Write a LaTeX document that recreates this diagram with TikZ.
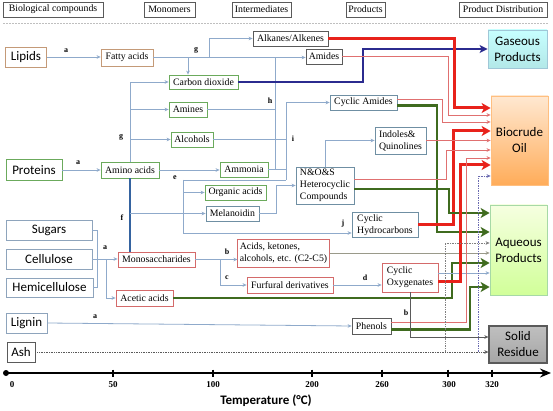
\documentclass[tikz,border=0pt]{standalone}
\usepackage{fontspec}
\setmainfont{Liberation Serif}
\newfontfamily\sansf{Carlito}
\usetikzlibrary{arrows.meta,calc}
\definecolor{lb}{HTML}{8FAACB}
\definecolor{tanb}{HTML}{C49A78}
\definecolor{grnb}{HTML}{6BAA5C}
\definecolor{bgb}{HTML}{6F8FA3}
\definecolor{bgl}{HTML}{8EA4BC}
\definecolor{redb}{HTML}{D46A6A}
\definecolor{dgb}{HTML}{5A5A5A}
\definecolor{tred}{HTML}{E8221B}
\definecolor{thinred}{HTML}{E07070}
\definecolor{dgreen}{HTML}{3F6B1F}
\definecolor{navyc}{HTML}{2B2B8F}
\definecolor{fblue}{HTML}{3563A0}
\definecolor{greyl}{HTML}{9A9A8A}
\tikzset{
  sz/.style 2 args={minimum width=#1pt,minimum height=#2pt},
  bx/.style={draw=#1, fill=white, line width=0.8pt, inner sep=2pt, font=\fontsize{9.8}{11.8}\selectfont},
  bxl/.style={bx=#1, align=left},
  bigbx/.style={draw=#1, fill=white, line width=0.8pt, inner sep=2pt, font=\sansf\fontsize{13}{15}\selectfont},
  outbx/.style={line width=0.8pt, inner sep=2pt, align=center, font=\sansf\fontsize{13}{16}\selectfont},
  lbl/.style={font=\bfseries\fontsize{8}{9}\selectfont, inner sep=0pt},
  tick/.style={font=\bfseries\fontsize{9}{10}\selectfont, inner sep=0pt},
  lbline/.style={draw=lb, line width=0.8pt},
  lbarrow/.style={lbline, -{Stealth[length=4pt,width=3.6pt]}},
  thinr/.style={draw=thinred, line width=0.8pt, -{Stealth[length=4pt,width=3.6pt]}},
  thickr/.style={draw=tred, line width=3pt, -{Stealth[length=9pt,width=10pt,inset=2.5pt]}},
  thickg/.style={draw=dgreen, line width=2.8pt, -{Stealth[length=9pt,width=10pt,inset=2.5pt]}},
  navyarrow/.style={draw=navyc, line width=2.4pt, -{Stealth[length=8pt,width=8pt,inset=2pt]}},
  greyarrow/.style={draw=greyl, line width=0.8pt, -{Stealth[length=4pt,width=3.6pt]}},
  darkarrow/.style={draw=dgb, line width=0.7pt, -{Stealth[length=4pt,width=3.6pt]}},
  dotarrow/.style={draw=gray, line width=0.7pt, densely dotted, -{Stealth[length=4pt,width=3.6pt]}},
  navydot/.style={draw=navyc!70, line width=0.7pt, densely dotted, -{Stealth[length=4pt,width=3.6pt]}}
}
\begin{document}
\begin{tikzpicture}[x=1pt,y=-1pt]
\useasboundingbox (0,0) rectangle (553,411);
\fill[white] (0,0) rectangle (553,411);
% headers
\node[bx=dgb, sz={100}{15}] (hBio) at (53,9.5) {Biological compounds};
\node[bx=dgb, sz={51}{15}] (hMon) at (169.5,9.5) {Monomers};
\node[bx=dgb, sz={59}{15}] (hInt) at (261.5,9.5) {Intermediates};
\node[bx=dgb, sz={39}{15}] (hProd) at (365.5,9.5) {Products};
\node[bx=dgb, sz={88}{15}] (hDist) at (503,9.5) {Product Distribution};
\draw[gray!50, line width=0.6pt, dash pattern=on 1.5pt off 1.5pt] (3,23) -- (548,23);
% left
\node[bigbx=tanb, sz={41}{20}] (lipids) at (26,57) {Lipids};
\node[bigbx=grnb, sz={56}{21}] (proteins) at (34,170) {Proteins};
\node[bigbx=bgl, sz={86}{20}] (sugars) at (49,230) {Sugars};
\node[bigbx=bgl, sz={86}{20}] (cellulose) at (49,259) {Cellulose};
\node[bigbx=bgl, sz={87}{19}] (hemi) at (49.5,287.5) {Hemicellulose};
\node[bigbx=bgl, sz={41}{20}] (lignin) at (26.5,323) {Lignin};
\node[bigbx=dgb, sz={28}{20}] (ash) at (21,352) {Ash};
% monomers / intermediates / products
\node[bx=tanb, sz={52}{17}] (fatty) at (127,57.5) {Fatty acids};
\node[bx=dgb, sz={75}{15}] (alkanes) at (290.5,38.5) {Alkanes/Alkenes};
\node[bx=dgb, sz={36}{15}] (amides) at (324,56.5) {Amides};
\node[bx=grnb, sz={69}{14}] (co2) at (203.5,82) {Carbon dioxide};
\node[bx=grnb, sz={38}{15}] (amines) at (188,109.5) {Amines};
\node[bx=grnb, sz={42}{15}] (alcohols) at (192,139.5) {Alcohols};
\node[bx=grnb, sz={58}{16}] (amino) at (130,170) {Amino acids};
\node[bx=grnb, sz={48}{15}] (ammonia) at (244,169.5) {Ammonia};
\node[bx=grnb, sz={61}{15}] (orgac) at (235.5,192.5) {Organic acids};
\node[bx=bgb, sz={53}{15}] (melan) at (232.5,213.5) {Melanoidin};
\node[bxl=bgb, sz={58}{37}] (nos) at (325,185.5) {N\&O\&S\\Heterocyclic\\Compounds};
\node[bx=bgb, sz={67}{15}] (cycam) at (363.5,102.5) {Cyclic Amides};
\node[bxl=bgb, sz={51}{27}] (indoles) at (400.5,140.5) {Indoles\&\\Quinolines};
\node[bxl=bgb, sz={66}{25}] (cychyd) at (385,225) {Cyclic\\Hydrocarbons};
\node[bx=redb, sz={77}{15}] (mono) at (156.5,259.5) {Monosaccharides};
\node[bx=redb, sz={57}{16}] (acetic) at (144.5,298) {Acetic acids};
\node[bxl=redb, sz={91}{28}] (acids) at (283.5,253) {Acids, ketones,\\alcohols, etc. (C2-C5)};
\node[bx=redb, sz={86}{16}] (furf) at (290,285) {Furfural derivatives};
\node[bxl=redb, sz={56}{29}] (cycox) at (410,277.5) {Cyclic\\Oxygenates};
\node[bx=dgb, sz={39}{16}] (phenols) at (371.5,326) {Phenols};
% outputs
\node[outbx, draw=cyan!45!gray!60, top color=cyan!22, bottom color=cyan!40!teal!30, sz={59}{38}] (gas) at (517.5,49) {Gaseous\\Products};
\node[outbx, draw=orange!50, top color=orange!18, bottom color=orange!65, sz={57}{89}] (bio) at (519.5,140.5) {Biocrude\\Oil};
\node[outbx, draw=green!40!gray!50, top color=green!30!yellow!12, bottom color=green!45!yellow!40, sz={57}{90}] (aq) at (518.5,250) {Aqueous\\Products};
\node[outbx, draw=dgb, line width=1.3pt, top color=gray!50, bottom color=gray!70, sz={58}{37}] (solid) at (518,344.5) {Solid\\Residue};
% light blue connectors
\draw[lbarrow] (lipids.east) -- (fatty.west |- lipids.east);
\node[lbl] (la1) at (66,51) {a};
\draw[lbarrow] (fatty.east) -- (amides.west |- fatty.east);
\draw[lbarrow] (209,57.5) |- (alkanes.west);
\draw[lbarrow] (188,57.5) -- ([xshift=-15.5pt]co2.north);
\node[lbl] (lg1) at (196,50) {g};
\draw[lbarrow] (amino.north) |- (co2.west);
\draw[lbarrow] (amines.west -| amino.north) -- (amines.west);
\draw[lbarrow] (alcohols.west -| amino.north) -- (alcohols.west);
\node[lbl] (lg2) at (121,137) {g};
\draw[lbarrow] (proteins.east) -- (amino.west);
\node[lbl] (la2) at (78,163) {a};
\draw[lbarrow] (amino.east) -- (ammonia.west |- amino.east);
% h and i
\coordinate (xh) at (275,0);
\coordinate (xi) at (286,0);
\coordinate (xe) at (183,0);
\draw[lbline] (275,57.5) -- (275,169.5);
\draw[lbline] (amines.east) -- (amines.east -| xh);
\draw[lbline] (ammonia.east) -- (ammonia.east -| xi);
\node[lbl] (lh) at (270,101) {h};
\draw[lbarrow] (286,180) |- (cycam.west);
\draw[lbline] (alcohols.east) -- (alcohols.east -| xi);
\node[lbl] (li) at (293,139) {i};
\draw[lbline] (183,180) -- (286,180);
\draw[lbarrow] (183,180) |- ([yshift=-8pt]cychyd.west);
\draw[lbarrow] (orgac.west -| xe) -- (orgac.west);
\node[lbl] (le) at (175,178) {e};
\node[lbl] (lj) at (343,224) {j};
\draw[lbarrow] (melan.east) -| (276,185.5) -- (nos.west);
\draw[lbarrow] (nos.north) |- (indoles.west);
% f
\draw[draw=fblue, line width=1.1pt] (amino.south) -- (amino.south |- mono.north);
\draw[lbarrow] (melan.west -| amino.south) -- (melan.west);
\node[lbl] (lf) at (122,218) {f};
% sugars
\draw[lbline] (sugars.east) -| (97,259);
\draw[lbline] (hemi.east) -| (97,259);
\draw[lbarrow] (cellulose.east) -- (mono.west |- cellulose.east);
\draw[lbarrow] (106,259) |- (acetic.west);
\node[lbl] (la3) at (105,248) {a};
\draw[lbarrow] (mono.east) -- (acids.west |- mono.east);
\draw[lbarrow] (220,259.5) |- (furf.west);
\node[lbl] (lb1) at (227,252) {b};
\node[lbl] (lc) at (227,278) {c};
\draw[lbarrow] (furf.east) -- (cycox.west |- furf.east);
\node[lbl] (ld) at (365,278) {d};
\draw[lbarrow] (lignin.east) -- (phenols.west);
\node[lbl] (la4) at (95,317) {a};
% outputs
\draw[navyarrow] (co2.east) -| (363,49) -- (gas.west);
\draw[thickr] (alkanes.east) -| (454,108) -- ([yshift=32.5pt]bio.west);
\draw[thinr] (amides.east) -| (448,115) -- ([yshift=25.5pt]bio.west);
\draw[thinr] ([yshift=3pt]cycam.east) -| (442,122) -- ([yshift=18.5pt]bio.west);
\draw[thickg] ([yshift=-3pt]cycam.east) -| (437,232) -- ([yshift=18pt]aq.west);
\draw[thickr] (cychyd.east) -| (453,131) -- ([yshift=9.5pt]bio.west);
\draw[thinr] (indoles.east) -- (bio.west |- indoles.east);
\draw[thinr] ([yshift=6.5pt]nos.east) -| (446,150) -- ([yshift=-9.5pt]bio.west);
\draw[thickg] ([yshift=-3.5pt]nos.east) -| (449,213) -- ([yshift=37pt]aq.west);
\draw[greyarrow] (acids.east) -- (aq.west |- acids.east);
\draw[thickg] (acetic.east) -| (452,263) -- ([yshift=-13pt]aq.west);
\draw[lbarrow] ([yshift=4.5pt]cycox.east) -- ([yshift=-23pt]aq.west);
\draw[thickr] ([yshift=-3.5pt]cycox.east) -| (460,165) -- ([yshift=-24.5pt]bio.west);
\draw[thinr] ([yshift=3.5pt]phenols.east) -| (466,158) -- ([yshift=-17.5pt]bio.west);
\draw[thickg] ([yshift=-3.5pt]phenols.east) -| (470,287) -- ([yshift=-37pt]aq.west);
\draw[darkarrow] (cycox.south) |- ([yshift=7.5pt]solid.west);
\node[lbl] (lb2) at (406,313) {b};
\draw[darkarrow, densely dotted] (ash.east) -- (solid.west |- ash.east);
\draw[dotarrow] (445,352) |- ([yshift=7pt]aq.west);
\draw[navydot] (478,352) |- ([yshift=-35.5pt]bio.west);
% axis
\fill (6,373) circle (3pt);
\draw[line width=2.2pt, -{Stealth[length=11pt,width=9pt]}] (6,373) -- (551,373);
\foreach \x in {113,213,312,382,448,492} \draw[line width=1.6pt] (\x,369.5) -- (\x,376.5);
\node[tick] (t0) at (12,385) {0};
\node[tick] (t50) at (113,385) {50};
\node[tick] (t100) at (213,385) {100};
\node[tick] (t200) at (312,385) {200};
\node[tick] (t260) at (382,385) {260};
\node[tick] (t300) at (449,385) {300};
\node[tick] (t320) at (492,385) {320};
\node[font=\sansf\bfseries\fontsize{13}{15}\selectfont, inner sep=0pt] (temp) at (266,401) {Temperature (°C)};
\end{tikzpicture}
\end{document}
